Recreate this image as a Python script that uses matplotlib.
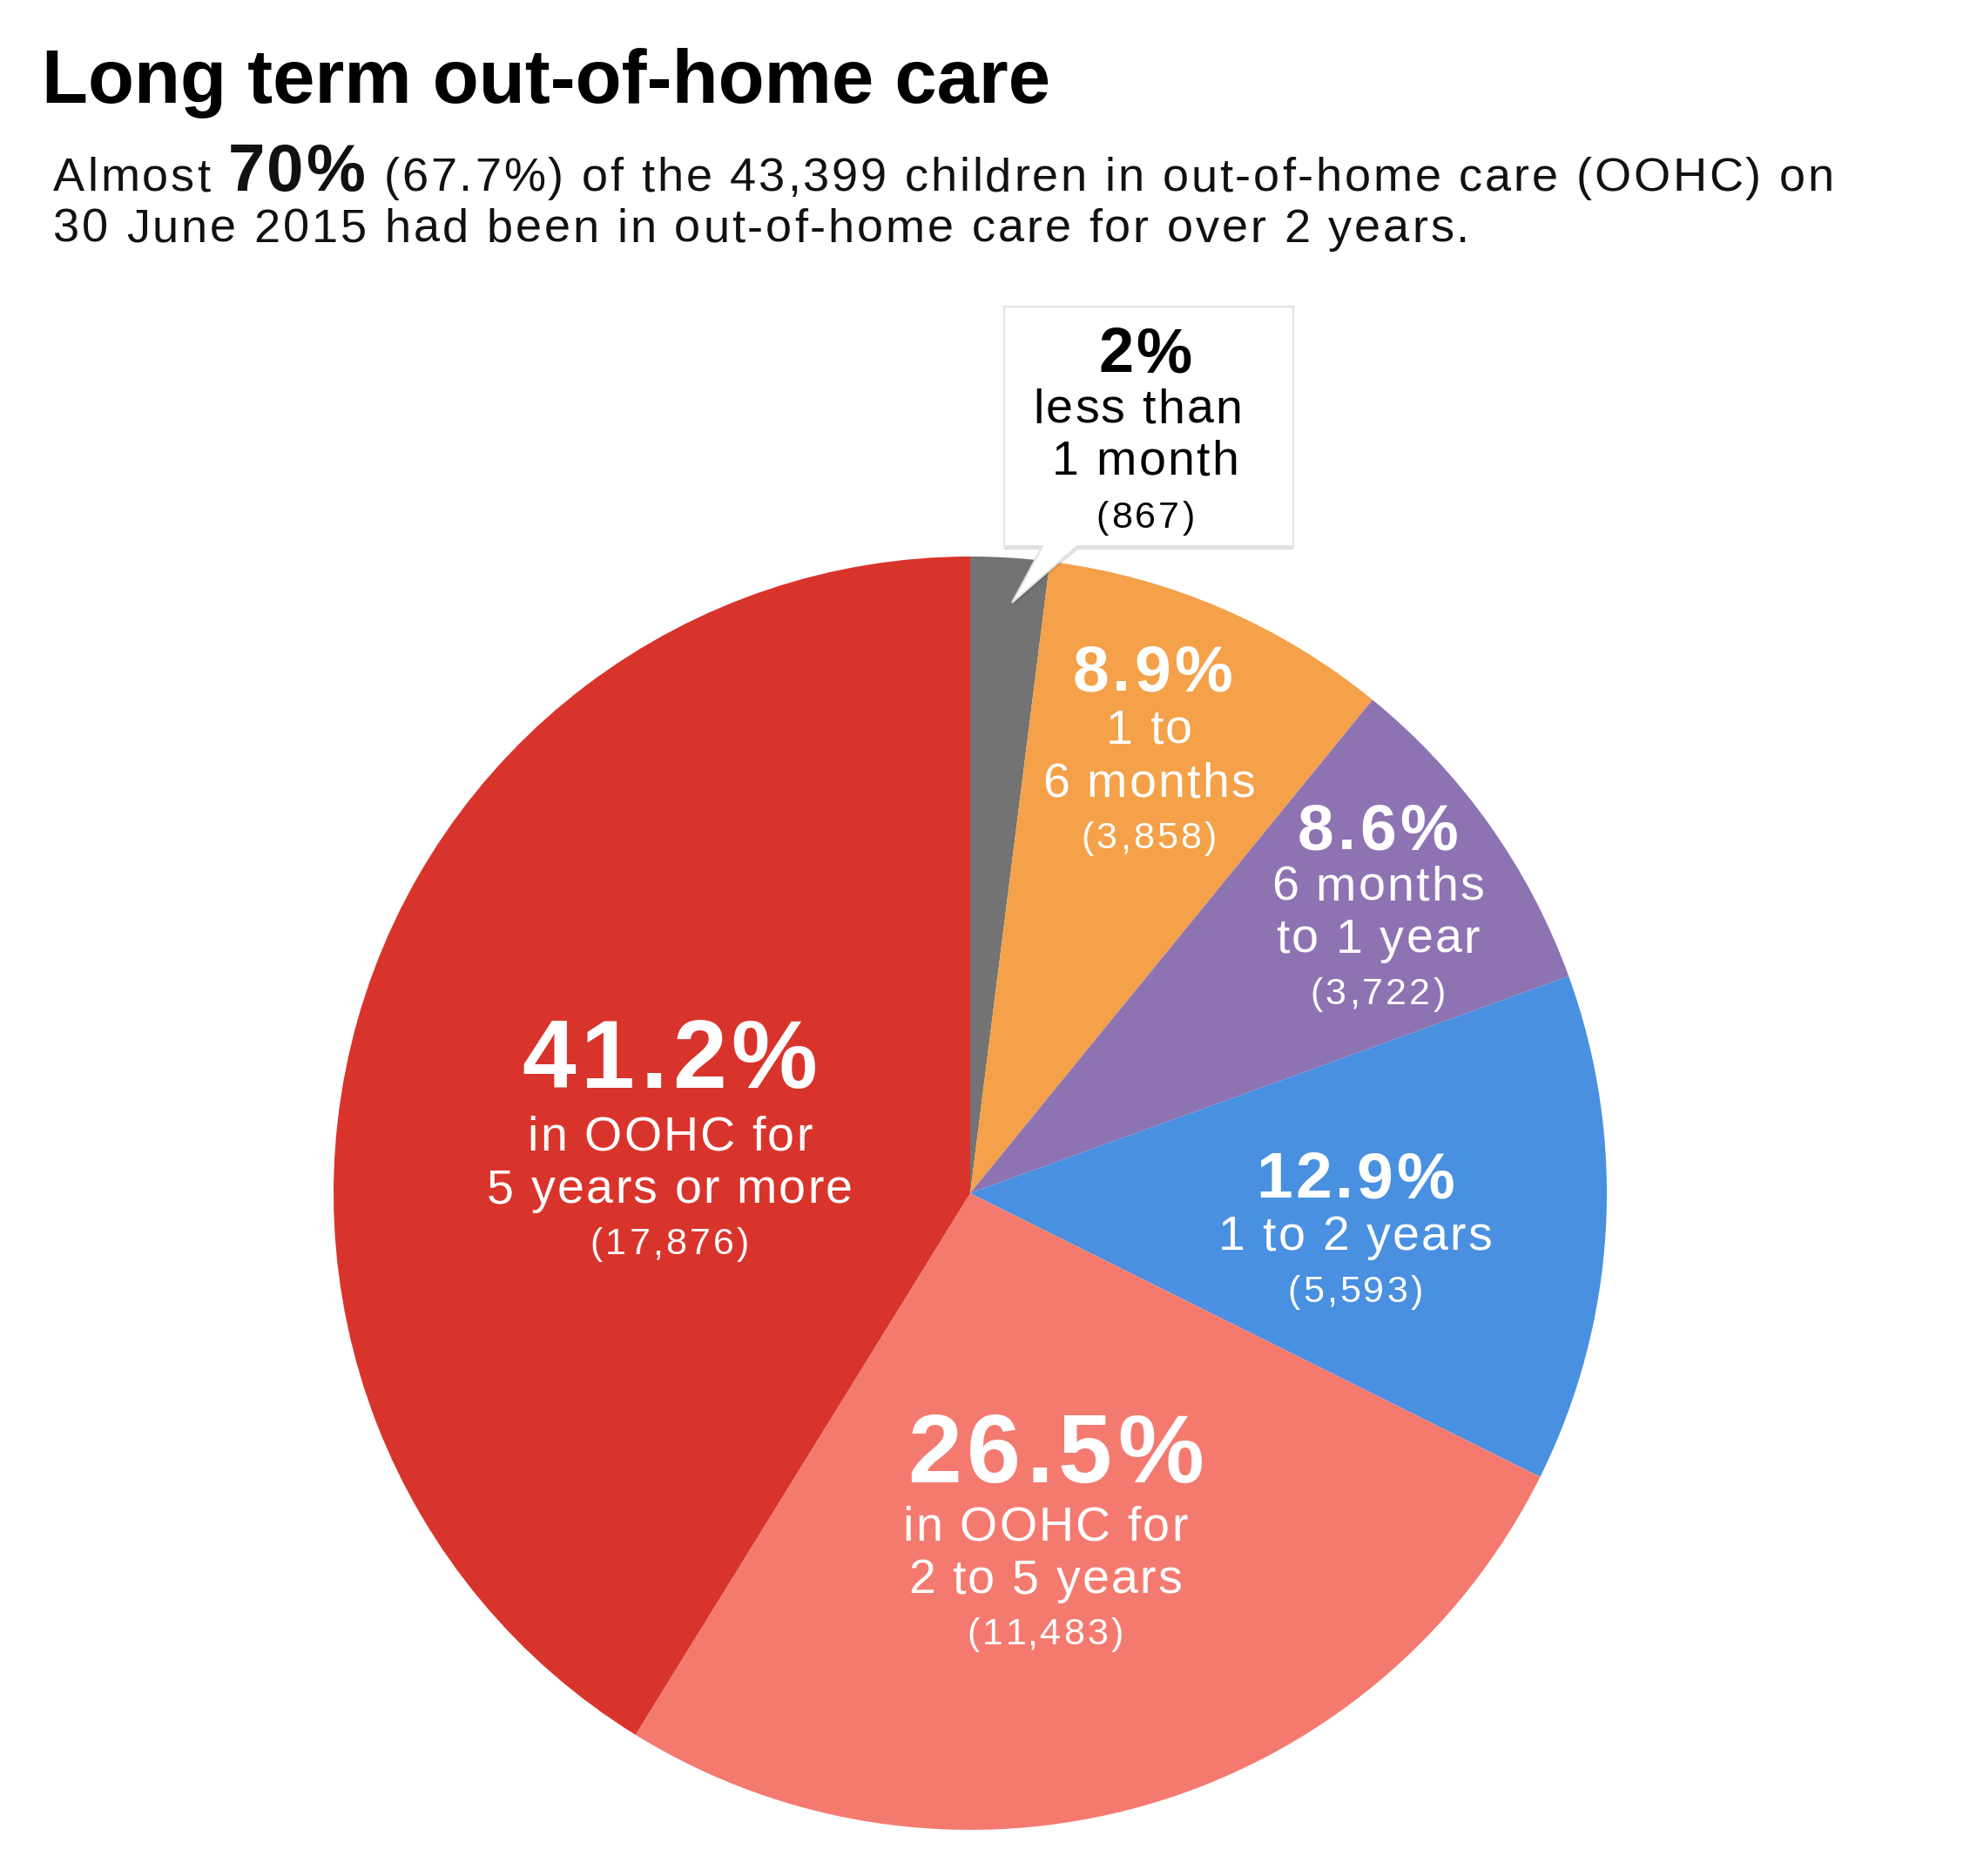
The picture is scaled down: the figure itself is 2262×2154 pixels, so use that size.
import matplotlib
matplotlib.use("Agg")
import matplotlib.pyplot as plt
from matplotlib.patches import Polygon
from matplotlib.font_manager import FontProperties
from matplotlib import patheffects as pe

FAMILY = ["Liberation Sans", "DejaVu Sans"]
plt.rcParams["font.family"] = FAMILY

# data
categories = ["less than 1 month", "1 to 6 months", "6 months to 1 year",
              "1 to 2 years", "2 to 5 years", "5 years or more"]
counts = [867, 3858, 3722, 5593, 11483, 17876]
shares = ["2%", "8.9%", "8.6%", "12.9%", "26.5%", "41.2%"]
label_lines = [["less than ", "1 month"], ["1 to", "6 months"],
               ["6 months", "to 1 year"], ["1 to 2 years"],
               ["in OOHC for", "2 to 5 years"], ["in OOHC for", "5 years or more"]]
colors = ["#737373", "#F4A149", "#8E73B3", "#4A90E0", "#F47A70", "#D9342B"]

W, H = 2262, 2154
fig = plt.figure(figsize=(W / 100, H / 100), dpi=100)

# pie: centre (1114, 1370) px, radius 731 px
cx, cy, r = 1114, 1370, 731
ax = fig.add_axes([(cx - r) / W, (H - cy - r) / H, 2 * r / W, 2 * r / H])
ax.pie(counts, colors=colors, startangle=90, counterclock=False,
       radius=1, wedgeprops=dict(linewidth=0))
ax.set_xlim(-1, 1)
ax.set_ylim(-1, 1)
ax.axis("off")

# overlay in pixel coords
lay = fig.add_axes([0, 0, 1, 1], zorder=5)
lay.set_xlim(0, W)
lay.set_ylim(H, 0)
lay.axis("off")
lay.patch.set_alpha(0)

fig.canvas.draw()
rend = fig.canvas.get_renderer()


def tw(s, fp):
    return rend.get_text_width_height_descent(s, fp, ismath=False)[0]


def tracked(x, y, s, size, weight="normal", track=0.0, ha="left", color="black"):
    # text with extra letter spacing, drawn char by char
    fp = FontProperties(family=FAMILY, size=size, weight=weight)
    base = tw("||", fp)
    offs = [tw("|" + s[:k] + "|", fp) - base + track * k for k in range(len(s) + 1)]
    total = offs[-1] - track
    x0 = x - total / 2 if ha == "center" else x
    for ch, o in zip(s, offs):
        if ch != " ":
            lay.text(x0 + o, y, ch, fontproperties=fp, ha="left", va="baseline",
                     color=color)
    return x0 + total + track


# title / subtitle
lay.text(48, 118, "Long term out-of-home care", fontsize=62.6, fontweight="bold",
         ha="left", va="baseline", color="black")

x = 61
x = tracked(x, 219, "Almost ", 39, track=2.9, color="#111111")
x = tracked(x, 219, "70%", 55, weight="bold", track=2.0, color="#111111")
x = tracked(x + 2, 219, " (67.7%) of the 43,399 children in out-of-home care (OOHC) on",
            39, track=2.85, color="#111111")
tracked(61, 278, "30 June 2015 had been in out-of-home care for over 2 years.",
        39, track=2.9, color="#111111")

# callout box for the small slice
box = [(1153, 352), (1485, 352), (1485, 627), (1237, 627), (1162, 692),
       (1197, 627), (1153, 627)]
poly = Polygon(box, closed=True, facecolor="white", edgecolor="#e2e2e2", lw=1.5,
               path_effects=[pe.SimplePatchShadow(offset=(0, -3), shadow_rgbFace="#000000",
                                                  alpha=0.12), pe.Normal()])
lay.add_patch(poly)

# label layout: (cx of percent, baseline of percent, cx of lines, line baselines, count baseline)
label_pos = [
    (1315, 427, 1315, [486, 545], 606),
    (1323, 793, 1319, [854, 915], 974),
    (1582, 975, 1582, [1034, 1094], 1153),
    (1556, 1375, 1556, [1435], 1495),
    (1212, 1702, 1200, [1769, 1829], 1888),
    (769, 1249, 769, [1321, 1381], 1440),
]
big = {0: (52, 3), 1: (54, 4), 2: (54, 4.5), 3: (54, 3.5), 4: (80, 6), 5: (80, 6)}
for i, (px, pb, lx, lb, cb) in enumerate(label_pos):
    col = "black" if i == 0 else "white"
    fs, tr = big[i]
    tracked(px, pb, shares[i], fs, weight="bold", track=tr, ha="center", color=col)
    for line, b in zip(label_lines[i], lb):
        tracked(lx, b, line, 40, track=2.2, ha="center", color=col)
    tracked(lx, cb, f"({counts[i]:,})", 31, track=3.2, ha="center", color=col)

fig.savefig("out.png", dpi=100, facecolor="white")
